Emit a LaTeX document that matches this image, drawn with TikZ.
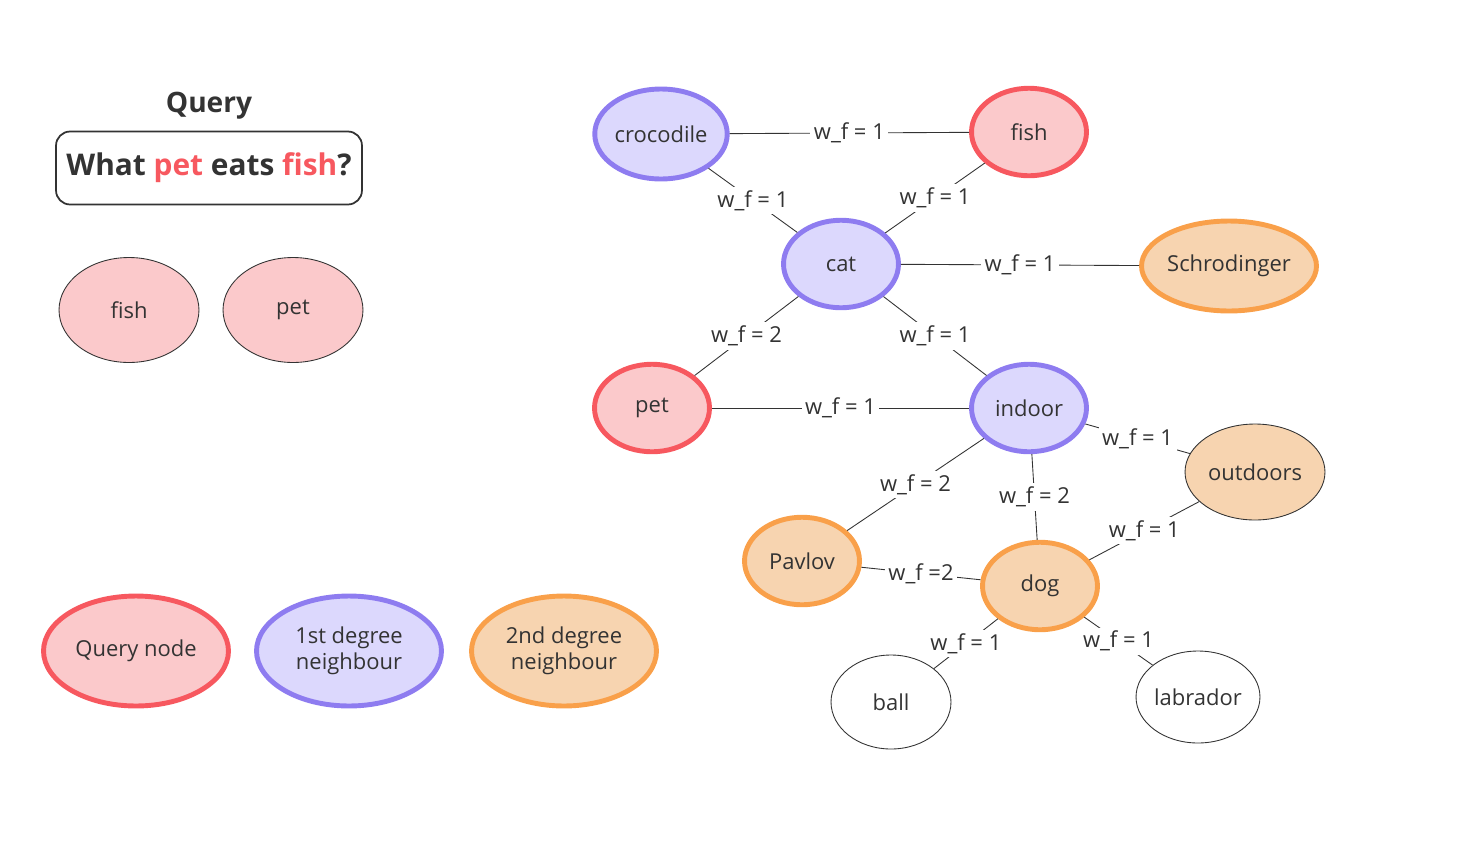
\documentclass[tikz,border=0pt]{standalone}
\usepackage{fontspec}
\setmainfont{Open Sans}
\usetikzlibrary{shapes.geometric}
\definecolor{qred}{HTML}{F7585F}
\definecolor{qpink}{HTML}{FBC9CB}
\definecolor{npurple}{HTML}{8E7CF0}
\definecolor{nlav}{HTML}{DCD8FD}
\definecolor{norange}{HTML}{F9A04A}
\definecolor{npeach}{HTML}{F7D4B0}
\definecolor{ink}{HTML}{333333}
\tikzset{
  ent/.style={ellipse, inner sep=0pt, text=ink, font=\fontsize{12.5}{15}\selectfont, align=center},
  query/.style={ent, draw=qred, line width=2.8pt, fill=qpink},
  first/.style={ent, draw=npurple, line width=2.8pt, fill=nlav},
  second/.style={ent, draw=norange, line width=2.8pt, fill=npeach},
  plain/.style={ent, draw=ink, line width=0.5pt},
  wf/.style={midway, fill=white, inner sep=2pt, text=ink, font=\fontsize{12.5}{15}\selectfont},
  link/.style={draw=ink, line width=0.5pt}
}
\begin{document}
\begin{tikzpicture}[x=0.02cm, y=-0.02cm]
  \useasboundingbox (0,0) rectangle (1478,866);

  % Query
  \node[font=\bfseries\fontsize{16}{19}\selectfont, text=ink] (title) at (209,106) {Query};
  \node[draw=ink, line width=1pt, rounded corners=8pt, minimum width=6.12cm, minimum height=1.46cm,
        font=\bfseries\fontsize{17}{20}\selectfont, text=ink] (question) at (209,168)
        {What \textcolor{qred}{pet} eats \textcolor{qred}{fish}?};
  \node[plain, fill=qpink, minimum width=2.8cm, minimum height=2.1cm] (qfish) at (129,310) {fish};
  \node[plain, fill=qpink, minimum width=2.8cm, minimum height=2.1cm] (qpet) at (293,310) {pet};

  % Legend
  \node[query, minimum width=3.7cm, minimum height=2.2cm] (lquery) at (136,651) {Query node};
  \node[first, minimum width=3.7cm, minimum height=2.2cm] (lfirst) at (349,651) {1st degree\\neighbour};
  \node[second, minimum width=3.7cm, minimum height=2.2cm] (lsecond) at (564,651) {2nd degree\\neighbour};

  % Graph
  \node[first, minimum width=2.65cm, minimum height=1.8cm] (crocodile) at (661,134) {crocodile};
  \node[query, minimum width=2.3cm, minimum height=1.75cm] (fish) at (1029,132) {fish};
  \node[first, minimum width=2.3cm, minimum height=1.75cm] (cat) at (841,264) {cat};
  \node[second, minimum width=3.5cm, minimum height=1.8cm] (schrodinger) at (1229,266) {Schrodinger};
  \node[query, minimum width=2.3cm, minimum height=1.75cm] (pet) at (652,408) {pet};
  \node[first, minimum width=2.3cm, minimum height=1.75cm] (indoor) at (1029,408) {indoor};
  \node[plain, fill=npeach, minimum width=2.8cm, minimum height=1.92cm] (outdoors) at (1255,472) {outdoors};
  \node[second, minimum width=2.3cm, minimum height=1.75cm] (pavlov) at (802,561) {Pavlov};
  \node[second, minimum width=2.3cm, minimum height=1.75cm] (dog) at (1040,586) {dog};
  \node[plain, minimum width=2.4cm, minimum height=1.88cm] (ball) at (891,702) {ball};
  \node[plain, minimum width=2.4cm, minimum height=1.84cm] (labrador) at (1198,697) {labrador};

  \draw[link] (crocodile) -- node[wf] {w\_f = 1} (fish);
  \draw[link] (crocodile) -- node[wf] {w\_f = 1} (cat);
  \draw[link] (fish) -- node[wf] {w\_f = 1} (cat);
  \draw[link] (cat) -- node[wf] {w\_f = 1} (schrodinger);
  \draw[link] (cat) -- node[wf] {w\_f = 2} (pet);
  \draw[link] (cat) -- node[wf] {w\_f = 1} (indoor);
  \draw[link] (pet) -- node[wf] {w\_f = 1} (indoor);
  \draw[link] (indoor) -- node[wf] {w\_f = 1} (outdoors);
  \draw[link] (indoor) -- node[wf] {w\_f = 2} (pavlov);
  \draw[link] (indoor) -- node[wf] {w\_f = 2} (dog);
  \draw[link] (outdoors) -- node[wf] {w\_f = 1} (dog);
  \draw[link] (pavlov) -- node[wf] {w\_f =2} (dog);
  \draw[link] (dog) -- node[wf] {w\_f = 1} (ball);
  \draw[link] (dog) -- node[wf] {w\_f = 1} (labrador);
\end{tikzpicture}
\end{document}
